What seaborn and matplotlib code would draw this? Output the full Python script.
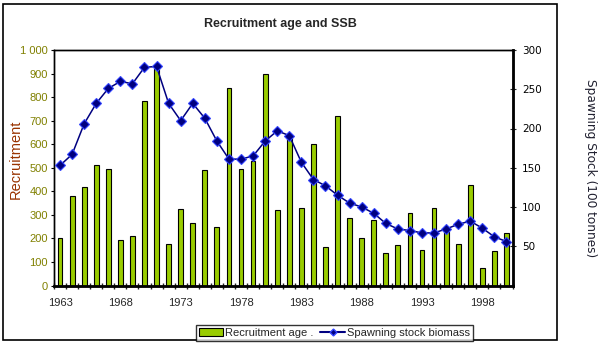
import matplotlib
matplotlib.use("Agg")
import matplotlib.pyplot as plt
import matplotlib.patches as mpatches
from matplotlib.lines import Line2D
import seaborn as sns
import numpy as np

years = list(range(1963, 2001))
recruitment = [200, 380, 420, 510, 495, 195, 210, 785, 920, 175,
               325, 265, 490, 250, 840, 495, 528, 900, 320, 628,
               328, 600, 163, 718, 286, 200, 277, 137, 171, 307,
               150, 328, 232, 175, 426, 74, 146, 222]
ssb = [153, 167, 206, 232, 251, 260, 257, 278, 279, 232,
       210, 232, 213, 184, 161, 161, 165, 184, 197, 191,
       157, 135, 127, 115, 105, 100, 92, 79, 72, 70,
       67, 67, 72, 78, 82, 73, 62, 56]
left_ticks = list(range(0, 1001, 100))
right_ticks = [50, 100, 150, 200, 250, 300]

W, H = 615, 360
sns.set_style("ticks")
plt.rcParams["font.family"] = ["Liberation Sans", "DejaVu Sans"]

fig = plt.figure(figsize=(W / 100, H / 100), dpi=100)
ax = fig.add_axes([54 / W, 1 - 285.5 / H, (512.5 - 54) / W, (285.5 - 50) / H])

# bars: recruitment on left axis
sns.barplot(x=years, y=recruitment, ax=ax, color="#99CC00", saturation=1,
            edgecolor="black", linewidth=0.8, width=0.4, zorder=2)
ax.set_ylim(0, 1000)
ax.set_yticks(left_ticks)
ax.set_yticklabels([f"{v:,}".replace(",", " ") for v in left_ticks])
ax.tick_params(axis="y", colors="black", labelcolor="#808000", labelsize=8,
               direction="out", length=2.5, pad=2)
ax.set_ylabel("")

# line: spawning stock on right axis
ax2 = ax.twinx()
sns.lineplot(x=np.arange(len(years)), y=ssb, ax=ax2, color="#000080",
             linewidth=1.1, marker="D", markersize=5,
             markerfacecolor="#000080", markeredgecolor="#3344ff",
             markeredgewidth=0.8, zorder=3)
ax2.set_ylim(0, 300)
ax2.set_yticks(right_ticks)
ax2.tick_params(axis="y", labelsize=8, direction="inout", length=4, pad=5,
                labelcolor="black")
for lab in ax2.get_yticklabels():
    lab.set_family("DejaVu Sans")
    lab.set_fontsize(7.5)
ax2.set_ylabel("")

# x axis: every category boundary ticked, labels every 5 years
ax.set_xlim(-0.5, len(years) - 0.5)
ax2.set_xlim(-0.5, len(years) - 0.5)
ax.set_xticks(np.arange(0, len(years), 5))
ax.set_xticklabels([str(y) for y in years[::5]], fontsize=8)
ax.set_xticks(np.arange(-0.5, len(years), 1), minor=True)
ax.tick_params(axis="x", which="major", length=0, pad=9)
ax.tick_params(axis="x", which="minor", direction="inout", length=4, width=1)
ax.set_xlabel("")

for a in (ax, ax2):
    for s in a.spines.values():
        s.set_visible(True)
        s.set_color("black")
        s.set_linewidth(1)
ax2.spines["right"].set_linewidth(2)
ax.spines["bottom"].set_linewidth(2)
ax.grid(False)
ax2.grid(False)

fig.text(280 / W, 1 - 24 / H, "Recruitment age and SSB", ha="center",
         va="center", fontsize=9, fontweight="bold")
fig.text(16 / W, 1 - 159 / H, "Recruitment", rotation=90, ha="center",
         va="center", fontsize=10.5, color="#993300")
fig.text(590 / W, 1 - 168 / H, "Spawning Stock (100 tonnes)", rotation=270,
         ha="center", va="center", fontsize=8.7, color="#202030",
         family="DejaVu Sans")

# chart area border
fig.patches.append(mpatches.Rectangle((3 / W, 1 - 340 / H), (557 - 3) / W,
                                      (340 - 4) / H, transform=fig.transFigure,
                                      fill=False, edgecolor="black", lw=1.2))

handles = [mpatches.Patch(facecolor="#99CC00", edgecolor="black", lw=0.8),
           Line2D([], [], color="#000080", lw=1.5, marker="D", markersize=3.5,
                  markerfacecolor="#000080", markeredgecolor="#3344ff")]
leg = fig.legend(handles, ["Recruitment age .", "Spawning stock biomass"],
                 loc="lower left", bbox_to_anchor=(196 / W, 1 - 341 / H),
                 ncol=2, fontsize=8, frameon=True, fancybox=False,
                 edgecolor="black", borderpad=0.25, handlelength=2.2,
                 handletextpad=0.2, columnspacing=0.6, borderaxespad=0)
leg.get_frame().set_linewidth(1)

fig.savefig("out.png", dpi=100, facecolor="white")
